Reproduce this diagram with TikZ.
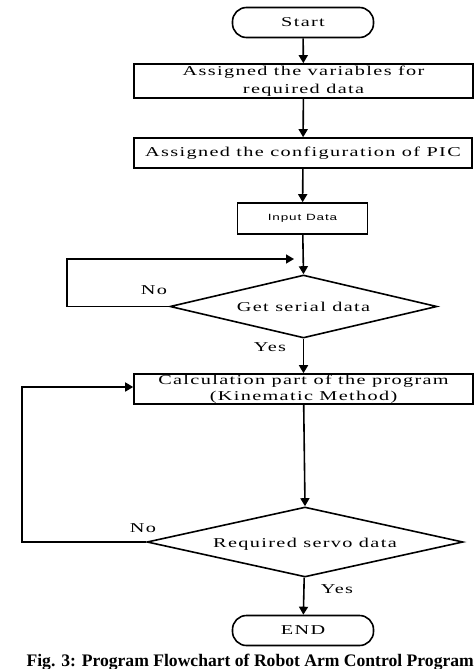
\documentclass[tikz,border=0pt]{standalone}
\usepackage{fontspec}
\setmainfont{Liberation Serif}
\newfontfamily\lsfont[FakeStretch=1.5,LetterSpace=10]{Liberation Serif}
\newfontfamily\lssans[FakeStretch=1.5,LetterSpace=10]{Liberation Sans}
\usetikzlibrary{shapes.geometric,arrows.meta}
\begin{document}
\begin{tikzpicture}[x=1pt,y=-1pt,
  every node/.style={font=\lsfont\fontsize{13.5}{17}\selectfont, inner sep=0pt, align=center},
  term/.style={draw, line width=1.6pt, rounded corners=14pt, minimum width=141pt, minimum height=30pt},
  procbox/.style={draw, line width=1.6pt, minimum width=339pt},
  decide/.style={draw, line width=1.6pt, diamond, inner sep=0pt},
  lbl/.style={font=\lsfont\fontsize{13.5}{17}\selectfont},
  conn/.style={line width=1.6pt, -{Triangle[length=8pt,width=9pt]}},
  plain/.style={line width=1.6pt}]
\useasboundingbox (0,0) rectangle (474,669);
\node[term] (start) at (303,22.5) {Start};
\node[procbox, minimum height=34pt, font=\lsfont\fontsize{13.5}{18.5}\selectfont] (b1) at (303.5,81) {Assigned the variables for\\required data};
\node[procbox, minimum width=338pt, minimum height=30pt] (b2) at (303,153) {Assigned the configuration of PIC};
\node[draw, line width=1.6pt, minimum width=130pt, minimum height=31pt, font=\lssans\fontsize{9}{11}\selectfont] (b3) at (302.5,218.5) {Input Data};
\node[decide, minimum width=267pt, minimum height=63pt] (d1) at (303.5,306.5) {};
\node (t1) at (d1.center) {Get serial data};
\node[procbox, minimum height=30pt, font=\lsfont\fontsize{13.5}{15.5}\selectfont] (b4) at (303.5,389) {Calculation part of the program\\(Kinematic Method)};
\node[decide, minimum width=316pt, minimum height=70pt] (d2) at (305,542) {};
\node (t2) at ([yshift=-2pt]d2.center) {Required servo data};
\node[term] (end) at (303,630.5) {END};
\node[lbl] (no1) at (154,290) {No};
\node[lbl] (yes1) at (270,347) {Yes};
\node[lbl] (no2) at (143,528) {No};
\node[lbl] (yes2) at (337,589) {Yes};
\node[anchor=base east, font=\rmfamily\bfseries\fontsize{17.6}{20}\selectfont] (cap) at (474,666) {Fig. 3: Program Flowchart of Robot Arm Control Program};
\coordinate (j1) at (303,259);
\coordinate (l1a) at (67,306.5);
\coordinate (l1b) at (67,259);
\coordinate (l2a) at (22,542);
\coordinate (l2b) at (22,387);
\draw[conn] (start) -- (b1);
\draw[conn] (b1) -- (b2);
\draw[conn] (b2) -- (b3);
\draw[conn] (b3) -- (d1.north);
\draw[conn] (d1) -- (b4);
\draw[conn] (b4) -- (d2.north);
\draw[conn] (d2) -- (end);
\draw[conn, shorten >=9pt] (d1.west) -- (l1a) -- (l1b) -- (j1);
\draw[conn] (d2.west) -- (l2a) -- (l2b) -- (b4.west |- l2b);
\end{tikzpicture}
\end{document}
